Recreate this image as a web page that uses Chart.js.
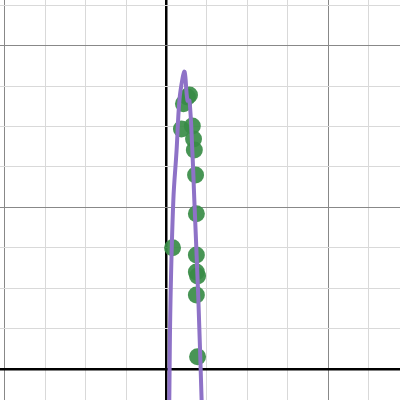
<!DOCTYPE html>
<html>
<head>
<script src="https://cdn.jsdelivr.net/npm/chart.js@4/dist/chart.umd.min.js"></script>
<style>body{margin:0;background:#fff}</style>
</head>
<body>
<canvas id="c" width="400" height="400"></canvas>
<script>
// grid units: one minor grid square = 1
const pointX = [0.15, 0.42, 0.57, 0.52, 0.37, 0.64, 0.67, 0.69, 0.72, 0.74, 0.74, 0.74, 0.77, 0.74, 0.77];
const pointY = [3.00, 6.56, 6.78, 6.73, 5.94, 6.01, 5.69, 5.42, 4.80, 3.84, 2.82, 2.40, 2.30, 1.83, 0.30];
const curveX = [0.07, 0.10, 0.17, 0.25, 0.32, 0.40, 0.45, 0.52, 0.57, 0.64, 0.69, 0.79, 0.87];
const curveY = [-0.77, 1.70, 4.17, 5.40, 6.64, 7.20, 7.35, 6.64, 6.64, 5.40, 4.17, 1.70, -0.77];

const xMin = -4.12, xMax = 5.78, yMin = -0.77, yMax = 9.13;

function gridColor(ctx) {
  const v = ctx.tick.value;
  if (v === 0) return '#000';
  if (v % 4 === 0) return '#888';
  return '#d9d9d9';
}
function gridWidth(ctx) {
  return ctx.tick.value === 0 ? 2.5 : 1;
}

const axis = (min, max) => ({
  type: 'linear', min: min, max: max,
  ticks: { display: false, stepSize: 1 },
  afterBuildTicks: s => { s.ticks = []; for (let v = Math.ceil(min); v <= max; v++) s.ticks.push({ value: v }); },
  grid: { color: gridColor, lineWidth: gridWidth, drawTicks: false },
  border: { display: false }
});

new Chart(document.getElementById('c'), {
  type: 'scatter',
  data: {
    datasets: [{
      type: 'line',
      data: curveX.map((x, i) => ({ x: x, y: curveY[i] })),
      borderColor: '#8e72c7',
      borderWidth: 4,
      pointRadius: 0,
      tension: 0.4,
      fill: false
    }, {
      data: pointX.map((x, i) => ({ x: x, y: pointY[i] })),
      backgroundColor: 'rgba(56,140,70,0.92)',
      borderWidth: 0,
      pointRadius: 8.5
    }]
  },
  options: {
    responsive: false,
    animation: false,
    layout: { padding: 0, autoPadding: false },
    plugins: { legend: { display: false }, tooltip: { enabled: false } },
    scales: { x: axis(xMin, xMax), y: axis(yMin, yMax) }
  }
});
</script>
</body>
</html>
